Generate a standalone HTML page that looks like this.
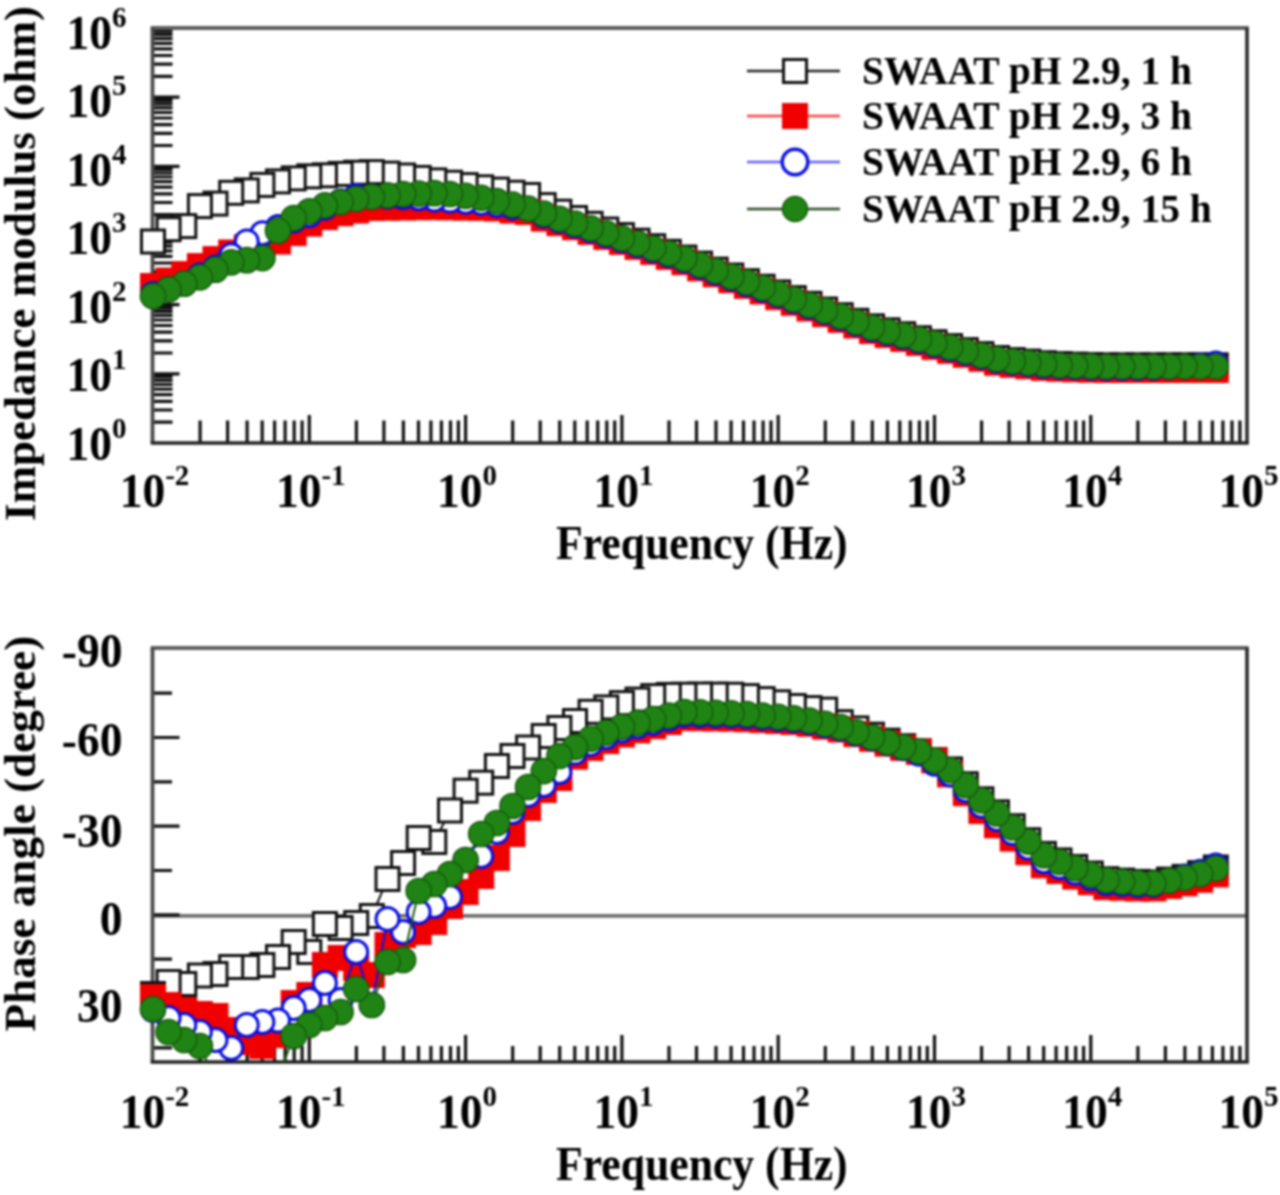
<!DOCTYPE html><html><head><meta charset="utf-8"><title>EIS plot</title><style>html,body{margin:0;padding:0;background:#fff;width:1280px;height:1195px;overflow:hidden}svg{display:block;filter:blur(1.3px)}</style></head><body><svg width="1280" height="1195" viewBox="0 0 1280 1195"><defs><clipPath id="c1"><rect x="0" y="0" width="1280" height="443.0"/></clipPath><clipPath id="c2"><rect x="0" y="648.0" width="1280" height="414.0"/></clipPath></defs><rect width="1280" height="1195" fill="#fff"/><path d="M152.5,422.2h20 M152.5,410.0h20 M152.5,401.4h20 M152.5,394.7h20 M152.5,389.2h20 M152.5,384.5h20 M152.5,380.5h20 M152.5,377.0h20 M152.5,373.8h27 M152.5,353.0h20 M152.5,340.8h20 M152.5,332.2h20 M152.5,325.5h20 M152.5,320.0h20 M152.5,315.4h20 M152.5,311.4h20 M152.5,307.8h20 M152.5,304.7h27 M152.5,283.8h20 M152.5,271.7h20 M152.5,263.0h20 M152.5,256.3h20 M152.5,250.8h20 M152.5,246.2h20 M152.5,242.2h20 M152.5,238.7h20 M152.5,235.5h27 M152.5,214.7h20 M152.5,202.5h20 M152.5,193.9h20 M152.5,187.2h20 M152.5,181.7h20 M152.5,177.0h20 M152.5,173.0h20 M152.5,169.5h20 M152.5,166.3h27 M152.5,145.5h20 M152.5,133.3h20 M152.5,124.7h20 M152.5,118.0h20 M152.5,112.5h20 M152.5,107.9h20 M152.5,103.9h20 M152.5,100.3h20 M152.5,97.2h27 M152.5,76.3h20 M152.5,64.2h20 M152.5,55.5h20 M152.5,48.8h20 M152.5,43.3h20 M152.5,38.7h20 M152.5,34.7h20 M152.5,31.2h20 M200.1,443.0v-22.5 M227.6,443.0v-22.5 M247.1,443.0v-22.5 M262.2,443.0v-22.5 M274.6,443.0v-22.5 M285.1,443.0v-22.5 M294.2,443.0v-22.5 M302.1,443.0v-22.5 M309.3,443.0v-28 M356.4,443.0v-22.5 M383.9,443.0v-22.5 M403.4,443.0v-22.5 M418.5,443.0v-22.5 M430.9,443.0v-22.5 M441.4,443.0v-22.5 M450.5,443.0v-22.5 M458.4,443.0v-22.5 M465.6,443.0v-28 M512.7,443.0v-22.5 M540.2,443.0v-22.5 M559.7,443.0v-22.5 M574.8,443.0v-22.5 M587.2,443.0v-22.5 M597.7,443.0v-22.5 M606.8,443.0v-22.5 M614.7,443.0v-22.5 M621.9,443.0v-28 M669.0,443.0v-22.5 M696.5,443.0v-22.5 M716.0,443.0v-22.5 M731.1,443.0v-22.5 M743.5,443.0v-22.5 M754.0,443.0v-22.5 M763.1,443.0v-22.5 M771.0,443.0v-22.5 M778.2,443.0v-28 M825.3,443.0v-22.5 M852.8,443.0v-22.5 M872.3,443.0v-22.5 M887.4,443.0v-22.5 M899.8,443.0v-22.5 M910.3,443.0v-22.5 M919.4,443.0v-22.5 M927.3,443.0v-22.5 M934.5,443.0v-28 M981.6,443.0v-22.5 M1009.1,443.0v-22.5 M1028.6,443.0v-22.5 M1043.7,443.0v-22.5 M1056.1,443.0v-22.5 M1066.6,443.0v-22.5 M1075.7,443.0v-22.5 M1083.6,443.0v-22.5 M1090.8,443.0v-28 M1137.9,443.0v-22.5 M1165.4,443.0v-22.5 M1184.9,443.0v-22.5 M1200.0,443.0v-22.5 M1212.4,443.0v-22.5 M1222.9,443.0v-22.5 M1232.0,443.0v-22.5 M1239.9,443.0v-22.5" stroke="#111" stroke-width="3.2" fill="none"/><line x1="150.7" y1="28.0" x2="1248.8" y2="28.0" stroke="#5e5e5e" stroke-width="3.8"/><line x1="152.5" y1="28.0" x2="152.5" y2="443.0" stroke="#4a4a4a" stroke-width="3.8"/><line x1="1247.0" y1="28.0" x2="1247.0" y2="443.0" stroke="#2a2a2a" stroke-width="3.6"/><line x1="150.7" y1="443.0" x2="1248.8" y2="443.0" stroke="#222" stroke-width="3.6"/><g clip-path="url(#c1)"><path d="M153.0,241.5 L168.6,229.2 L184.3,226.1 L199.9,206.1 L215.5,203.6 L231.2,192.8 L246.8,190.4 L262.4,184.9 L278.0,181.4 L293.7,178.4 L309.3,176.3 L324.9,175.3 L340.6,173.9 L356.2,172.7 L371.8,172.1 L387.5,173.6 L403.1,175.5 L418.7,177.9 L434.3,180.4 L450.0,182.7 L465.6,185.1 L481.2,187.3 L496.9,189.6 L512.5,192.7 L528.1,195.0 L543.8,205.1 L559.4,211.7 L575.0,218.0 L590.6,223.8 L606.3,229.5 L621.9,235.1 L637.5,240.7 L653.2,246.2 L668.8,251.8 L684.4,257.5 L700.1,263.6 L715.7,269.6 L731.3,275.5 L746.9,281.2 L762.6,286.7 L778.2,292.4 L793.8,298.1 L809.5,303.8 L825.1,309.5 L840.7,315.2 L856.4,320.8 L872.0,326.3 L887.6,330.3 L903.2,334.2 L918.9,338.2 L934.5,342.2 L950.1,346.1 L965.8,350.1 L981.4,354.1 L997.0,358.0 L1012.7,360.1 L1028.3,361.6 L1043.9,363.2 L1059.5,364.1 L1075.2,364.6 L1090.8,365.0 L1106.4,365.3 L1122.1,365.3 L1137.7,365.3 L1153.3,365.3 L1169.0,365.3 L1184.6,365.3 L1200.2,365.3 L1215.8,365.3" fill="none" stroke="#111" stroke-width="2"/><rect x="1204.3" y="353.8" width="23" height="23" fill="#fff" stroke="#111" stroke-width="3"/><rect x="1188.7" y="353.8" width="23" height="23" fill="#fff" stroke="#111" stroke-width="3"/><rect x="1173.1" y="353.8" width="23" height="23" fill="#fff" stroke="#111" stroke-width="3"/><rect x="1157.5" y="353.8" width="23" height="23" fill="#fff" stroke="#111" stroke-width="3"/><rect x="1141.8" y="353.8" width="23" height="23" fill="#fff" stroke="#111" stroke-width="3"/><rect x="1126.2" y="353.8" width="23" height="23" fill="#fff" stroke="#111" stroke-width="3"/><rect x="1110.6" y="353.8" width="23" height="23" fill="#fff" stroke="#111" stroke-width="3"/><rect x="1094.9" y="353.8" width="23" height="23" fill="#fff" stroke="#111" stroke-width="3"/><rect x="1079.3" y="353.5" width="23" height="23" fill="#fff" stroke="#111" stroke-width="3"/><rect x="1063.7" y="353.1" width="23" height="23" fill="#fff" stroke="#111" stroke-width="3"/><rect x="1048.0" y="352.6" width="23" height="23" fill="#fff" stroke="#111" stroke-width="3"/><rect x="1032.4" y="351.7" width="23" height="23" fill="#fff" stroke="#111" stroke-width="3"/><rect x="1016.8" y="350.1" width="23" height="23" fill="#fff" stroke="#111" stroke-width="3"/><rect x="1001.2" y="348.6" width="23" height="23" fill="#fff" stroke="#111" stroke-width="3"/><rect x="985.5" y="346.5" width="23" height="23" fill="#fff" stroke="#111" stroke-width="3"/><rect x="969.9" y="342.6" width="23" height="23" fill="#fff" stroke="#111" stroke-width="3"/><rect x="954.3" y="338.6" width="23" height="23" fill="#fff" stroke="#111" stroke-width="3"/><rect x="938.6" y="334.6" width="23" height="23" fill="#fff" stroke="#111" stroke-width="3"/><rect x="923.0" y="330.7" width="23" height="23" fill="#fff" stroke="#111" stroke-width="3"/><rect x="907.4" y="326.7" width="23" height="23" fill="#fff" stroke="#111" stroke-width="3"/><rect x="891.7" y="322.7" width="23" height="23" fill="#fff" stroke="#111" stroke-width="3"/><rect x="876.1" y="318.8" width="23" height="23" fill="#fff" stroke="#111" stroke-width="3"/><rect x="860.5" y="314.8" width="23" height="23" fill="#fff" stroke="#111" stroke-width="3"/><rect x="844.9" y="309.3" width="23" height="23" fill="#fff" stroke="#111" stroke-width="3"/><rect x="829.2" y="303.7" width="23" height="23" fill="#fff" stroke="#111" stroke-width="3"/><rect x="813.6" y="298.0" width="23" height="23" fill="#fff" stroke="#111" stroke-width="3"/><rect x="798.0" y="292.3" width="23" height="23" fill="#fff" stroke="#111" stroke-width="3"/><rect x="782.3" y="286.6" width="23" height="23" fill="#fff" stroke="#111" stroke-width="3"/><rect x="766.7" y="280.9" width="23" height="23" fill="#fff" stroke="#111" stroke-width="3"/><rect x="751.1" y="275.2" width="23" height="23" fill="#fff" stroke="#111" stroke-width="3"/><rect x="735.4" y="269.7" width="23" height="23" fill="#fff" stroke="#111" stroke-width="3"/><rect x="719.8" y="264.0" width="23" height="23" fill="#fff" stroke="#111" stroke-width="3"/><rect x="704.2" y="258.1" width="23" height="23" fill="#fff" stroke="#111" stroke-width="3"/><rect x="688.6" y="252.1" width="23" height="23" fill="#fff" stroke="#111" stroke-width="3"/><rect x="672.9" y="246.0" width="23" height="23" fill="#fff" stroke="#111" stroke-width="3"/><rect x="657.3" y="240.3" width="23" height="23" fill="#fff" stroke="#111" stroke-width="3"/><rect x="641.7" y="234.7" width="23" height="23" fill="#fff" stroke="#111" stroke-width="3"/><rect x="626.0" y="229.2" width="23" height="23" fill="#fff" stroke="#111" stroke-width="3"/><rect x="610.4" y="223.6" width="23" height="23" fill="#fff" stroke="#111" stroke-width="3"/><rect x="594.8" y="218.0" width="23" height="23" fill="#fff" stroke="#111" stroke-width="3"/><rect x="579.1" y="212.3" width="23" height="23" fill="#fff" stroke="#111" stroke-width="3"/><rect x="563.5" y="206.5" width="23" height="23" fill="#fff" stroke="#111" stroke-width="3"/><rect x="547.9" y="200.2" width="23" height="23" fill="#fff" stroke="#111" stroke-width="3"/><rect x="532.2" y="193.6" width="23" height="23" fill="#fff" stroke="#111" stroke-width="3"/><rect x="516.6" y="183.5" width="23" height="23" fill="#fff" stroke="#111" stroke-width="3"/><rect x="501.0" y="181.2" width="23" height="23" fill="#fff" stroke="#111" stroke-width="3"/><rect x="485.4" y="178.1" width="23" height="23" fill="#fff" stroke="#111" stroke-width="3"/><rect x="469.7" y="175.8" width="23" height="23" fill="#fff" stroke="#111" stroke-width="3"/><rect x="454.1" y="173.6" width="23" height="23" fill="#fff" stroke="#111" stroke-width="3"/><rect x="438.5" y="171.2" width="23" height="23" fill="#fff" stroke="#111" stroke-width="3"/><rect x="422.8" y="168.9" width="23" height="23" fill="#fff" stroke="#111" stroke-width="3"/><rect x="407.2" y="166.4" width="23" height="23" fill="#fff" stroke="#111" stroke-width="3"/><rect x="391.6" y="164.0" width="23" height="23" fill="#fff" stroke="#111" stroke-width="3"/><rect x="376.0" y="162.1" width="23" height="23" fill="#fff" stroke="#111" stroke-width="3"/><rect x="360.3" y="160.6" width="23" height="23" fill="#fff" stroke="#111" stroke-width="3"/><rect x="344.7" y="161.2" width="23" height="23" fill="#fff" stroke="#111" stroke-width="3"/><rect x="329.1" y="162.4" width="23" height="23" fill="#fff" stroke="#111" stroke-width="3"/><rect x="313.4" y="163.8" width="23" height="23" fill="#fff" stroke="#111" stroke-width="3"/><rect x="297.8" y="164.8" width="23" height="23" fill="#fff" stroke="#111" stroke-width="3"/><rect x="282.2" y="166.9" width="23" height="23" fill="#fff" stroke="#111" stroke-width="3"/><rect x="266.5" y="169.9" width="23" height="23" fill="#fff" stroke="#111" stroke-width="3"/><rect x="250.9" y="173.4" width="23" height="23" fill="#fff" stroke="#111" stroke-width="3"/><rect x="235.3" y="178.9" width="23" height="23" fill="#fff" stroke="#111" stroke-width="3"/><rect x="219.7" y="181.3" width="23" height="23" fill="#fff" stroke="#111" stroke-width="3"/><rect x="204.0" y="192.1" width="23" height="23" fill="#fff" stroke="#111" stroke-width="3"/><rect x="188.4" y="194.6" width="23" height="23" fill="#fff" stroke="#111" stroke-width="3"/><rect x="172.8" y="214.6" width="23" height="23" fill="#fff" stroke="#111" stroke-width="3"/><rect x="157.1" y="217.7" width="23" height="23" fill="#fff" stroke="#111" stroke-width="3"/><rect x="141.5" y="230.0" width="23" height="23" fill="#fff" stroke="#111" stroke-width="3"/></g><g clip-path="url(#c1)"><path d="M153.0,286.0 L168.6,280.5 L184.3,274.1 L199.9,266.1 L215.5,259.1 L231.2,252.5 L246.8,247.3 L262.4,244.5 L278.0,241.5 L293.7,233.0 L309.3,223.6 L324.9,217.1 L340.6,213.2 L356.2,210.5 L371.8,208.0 L387.5,207.7 L403.1,207.5 L418.7,207.2 L434.3,207.1 L450.0,207.3 L465.6,207.6 L481.2,207.8 L496.9,208.5 L512.5,210.6 L528.1,212.0 L543.8,218.6 L559.4,223.1 L575.0,227.2 L590.6,231.9 L606.3,236.9 L621.9,241.9 L637.5,246.9 L653.2,251.9 L668.8,256.9 L684.4,262.2 L700.1,268.3 L715.7,274.3 L731.3,280.2 L746.9,285.9 L762.6,291.4 L778.2,297.1 L793.8,302.8 L809.5,308.5 L825.1,314.2 L840.7,319.9 L856.4,325.5 L872.0,331.0 L887.6,335.0 L903.2,338.9 L918.9,342.9 L934.5,346.9 L950.1,350.8 L965.8,354.8 L981.4,358.8 L997.0,362.7 L1012.7,364.8 L1028.3,366.3 L1043.9,367.9 L1059.5,368.8 L1075.2,369.3 L1090.8,369.7 L1106.4,370.0 L1122.1,370.0 L1137.7,370.0 L1153.3,370.0 L1169.0,370.0 L1184.6,370.0 L1200.2,370.0 L1215.8,370.0" fill="none" stroke="#f00000" stroke-width="2"/><rect x="1202.8" y="357.0" width="26" height="26" fill="#f00000"/><rect x="1187.2" y="357.0" width="26" height="26" fill="#f00000"/><rect x="1171.6" y="357.0" width="26" height="26" fill="#f00000"/><rect x="1156.0" y="357.0" width="26" height="26" fill="#f00000"/><rect x="1140.3" y="357.0" width="26" height="26" fill="#f00000"/><rect x="1124.7" y="357.0" width="26" height="26" fill="#f00000"/><rect x="1109.1" y="357.0" width="26" height="26" fill="#f00000"/><rect x="1093.4" y="357.0" width="26" height="26" fill="#f00000"/><rect x="1077.8" y="356.7" width="26" height="26" fill="#f00000"/><rect x="1062.2" y="356.3" width="26" height="26" fill="#f00000"/><rect x="1046.5" y="355.8" width="26" height="26" fill="#f00000"/><rect x="1030.9" y="354.9" width="26" height="26" fill="#f00000"/><rect x="1015.3" y="353.3" width="26" height="26" fill="#f00000"/><rect x="999.7" y="351.8" width="26" height="26" fill="#f00000"/><rect x="984.0" y="349.7" width="26" height="26" fill="#f00000"/><rect x="968.4" y="345.8" width="26" height="26" fill="#f00000"/><rect x="952.8" y="341.8" width="26" height="26" fill="#f00000"/><rect x="937.1" y="337.8" width="26" height="26" fill="#f00000"/><rect x="921.5" y="333.9" width="26" height="26" fill="#f00000"/><rect x="905.9" y="329.9" width="26" height="26" fill="#f00000"/><rect x="890.2" y="325.9" width="26" height="26" fill="#f00000"/><rect x="874.6" y="322.0" width="26" height="26" fill="#f00000"/><rect x="859.0" y="318.0" width="26" height="26" fill="#f00000"/><rect x="843.4" y="312.5" width="26" height="26" fill="#f00000"/><rect x="827.7" y="306.9" width="26" height="26" fill="#f00000"/><rect x="812.1" y="301.2" width="26" height="26" fill="#f00000"/><rect x="796.5" y="295.5" width="26" height="26" fill="#f00000"/><rect x="780.8" y="289.8" width="26" height="26" fill="#f00000"/><rect x="765.2" y="284.1" width="26" height="26" fill="#f00000"/><rect x="749.6" y="278.4" width="26" height="26" fill="#f00000"/><rect x="733.9" y="272.9" width="26" height="26" fill="#f00000"/><rect x="718.3" y="267.2" width="26" height="26" fill="#f00000"/><rect x="702.7" y="261.3" width="26" height="26" fill="#f00000"/><rect x="687.1" y="255.3" width="26" height="26" fill="#f00000"/><rect x="671.4" y="249.2" width="26" height="26" fill="#f00000"/><rect x="655.8" y="243.9" width="26" height="26" fill="#f00000"/><rect x="640.2" y="238.9" width="26" height="26" fill="#f00000"/><rect x="624.5" y="233.9" width="26" height="26" fill="#f00000"/><rect x="608.9" y="228.9" width="26" height="26" fill="#f00000"/><rect x="593.3" y="223.9" width="26" height="26" fill="#f00000"/><rect x="577.6" y="218.9" width="26" height="26" fill="#f00000"/><rect x="562.0" y="214.2" width="26" height="26" fill="#f00000"/><rect x="546.4" y="210.1" width="26" height="26" fill="#f00000"/><rect x="530.8" y="205.6" width="26" height="26" fill="#f00000"/><rect x="515.1" y="199.0" width="26" height="26" fill="#f00000"/><rect x="499.5" y="197.6" width="26" height="26" fill="#f00000"/><rect x="483.9" y="195.5" width="26" height="26" fill="#f00000"/><rect x="468.2" y="194.8" width="26" height="26" fill="#f00000"/><rect x="452.6" y="194.6" width="26" height="26" fill="#f00000"/><rect x="437.0" y="194.3" width="26" height="26" fill="#f00000"/><rect x="421.3" y="194.1" width="26" height="26" fill="#f00000"/><rect x="405.7" y="194.2" width="26" height="26" fill="#f00000"/><rect x="390.1" y="194.5" width="26" height="26" fill="#f00000"/><rect x="374.5" y="194.7" width="26" height="26" fill="#f00000"/><rect x="358.8" y="195.0" width="26" height="26" fill="#f00000"/><rect x="343.2" y="197.5" width="26" height="26" fill="#f00000"/><rect x="327.6" y="200.2" width="26" height="26" fill="#f00000"/><rect x="311.9" y="204.1" width="26" height="26" fill="#f00000"/><rect x="296.3" y="210.6" width="26" height="26" fill="#f00000"/><rect x="280.7" y="220.0" width="26" height="26" fill="#f00000"/><rect x="265.0" y="228.5" width="26" height="26" fill="#f00000"/><rect x="249.4" y="231.5" width="26" height="26" fill="#f00000"/><rect x="233.8" y="234.3" width="26" height="26" fill="#f00000"/><rect x="218.2" y="239.5" width="26" height="26" fill="#f00000"/><rect x="202.5" y="246.1" width="26" height="26" fill="#f00000"/><rect x="186.9" y="253.1" width="26" height="26" fill="#f00000"/><rect x="171.3" y="261.1" width="26" height="26" fill="#f00000"/><rect x="155.6" y="267.5" width="26" height="26" fill="#f00000"/><rect x="140.0" y="273.0" width="26" height="26" fill="#f00000"/></g><g clip-path="url(#c1)"><path d="M153.0,294.0 L168.6,289.2 L184.3,283.9 L199.9,275.3 L215.5,267.2 L231.2,255.2 L246.8,241.4 L262.4,233.3 L278.0,226.9 L293.7,220.7 L309.3,215.3 L324.9,207.7 L340.6,201.2 L356.2,196.0 L371.8,196.4 L387.5,196.7 L403.1,197.2 L418.7,198.3 L434.3,199.5 L450.0,200.6 L465.6,201.7 L481.2,202.9 L496.9,205.1 L512.5,207.4 L528.1,209.0 L543.8,215.7 L559.4,220.8 L575.0,225.5 L590.6,230.4 L606.3,235.4 L621.9,240.3 L637.5,245.3 L653.2,250.3 L668.8,255.3 L684.4,260.6 L700.1,266.7 L715.7,272.7 L731.3,278.6 L746.9,284.3 L762.6,289.8 L778.2,295.4 L793.8,301.1 L809.5,306.8 L825.1,312.4 L840.7,318.1 L856.4,323.8 L872.0,329.2 L887.6,333.2 L903.2,337.1 L918.9,341.1 L934.5,345.0 L950.1,349.0 L965.8,353.0 L981.4,356.9 L997.0,360.9 L1012.7,362.9 L1028.3,364.4 L1043.9,366.0 L1059.5,366.9 L1075.2,367.3 L1090.8,367.8 L1106.4,368.0 L1122.1,368.0 L1137.7,368.0 L1153.3,367.9 L1169.0,367.3 L1184.6,366.7 L1200.2,365.3 L1215.8,363.5" fill="none" stroke="#0a10e0" stroke-width="2"/><circle cx="1215.8" cy="363.5" r="11.5" fill="#fff" stroke="#0a10e0" stroke-width="3"/><circle cx="1200.2" cy="365.3" r="11.5" fill="#fff" stroke="#0a10e0" stroke-width="3"/><circle cx="1184.6" cy="366.7" r="11.5" fill="#fff" stroke="#0a10e0" stroke-width="3"/><circle cx="1169.0" cy="367.3" r="11.5" fill="#fff" stroke="#0a10e0" stroke-width="3"/><circle cx="1153.3" cy="367.9" r="11.5" fill="#fff" stroke="#0a10e0" stroke-width="3"/><circle cx="1137.7" cy="368.0" r="11.5" fill="#fff" stroke="#0a10e0" stroke-width="3"/><circle cx="1122.1" cy="368.0" r="11.5" fill="#fff" stroke="#0a10e0" stroke-width="3"/><circle cx="1106.4" cy="368.0" r="11.5" fill="#fff" stroke="#0a10e0" stroke-width="3"/><circle cx="1090.8" cy="367.8" r="11.5" fill="#fff" stroke="#0a10e0" stroke-width="3"/><circle cx="1075.2" cy="367.3" r="11.5" fill="#fff" stroke="#0a10e0" stroke-width="3"/><circle cx="1059.5" cy="366.9" r="11.5" fill="#fff" stroke="#0a10e0" stroke-width="3"/><circle cx="1043.9" cy="366.0" r="11.5" fill="#fff" stroke="#0a10e0" stroke-width="3"/><circle cx="1028.3" cy="364.4" r="11.5" fill="#fff" stroke="#0a10e0" stroke-width="3"/><circle cx="1012.7" cy="362.9" r="11.5" fill="#fff" stroke="#0a10e0" stroke-width="3"/><circle cx="997.0" cy="360.9" r="11.5" fill="#fff" stroke="#0a10e0" stroke-width="3"/><circle cx="981.4" cy="356.9" r="11.5" fill="#fff" stroke="#0a10e0" stroke-width="3"/><circle cx="965.8" cy="353.0" r="11.5" fill="#fff" stroke="#0a10e0" stroke-width="3"/><circle cx="950.1" cy="349.0" r="11.5" fill="#fff" stroke="#0a10e0" stroke-width="3"/><circle cx="934.5" cy="345.0" r="11.5" fill="#fff" stroke="#0a10e0" stroke-width="3"/><circle cx="918.9" cy="341.1" r="11.5" fill="#fff" stroke="#0a10e0" stroke-width="3"/><circle cx="903.2" cy="337.1" r="11.5" fill="#fff" stroke="#0a10e0" stroke-width="3"/><circle cx="887.6" cy="333.2" r="11.5" fill="#fff" stroke="#0a10e0" stroke-width="3"/><circle cx="872.0" cy="329.2" r="11.5" fill="#fff" stroke="#0a10e0" stroke-width="3"/><circle cx="856.4" cy="323.8" r="11.5" fill="#fff" stroke="#0a10e0" stroke-width="3"/><circle cx="840.7" cy="318.1" r="11.5" fill="#fff" stroke="#0a10e0" stroke-width="3"/><circle cx="825.1" cy="312.4" r="11.5" fill="#fff" stroke="#0a10e0" stroke-width="3"/><circle cx="809.5" cy="306.8" r="11.5" fill="#fff" stroke="#0a10e0" stroke-width="3"/><circle cx="793.8" cy="301.1" r="11.5" fill="#fff" stroke="#0a10e0" stroke-width="3"/><circle cx="778.2" cy="295.4" r="11.5" fill="#fff" stroke="#0a10e0" stroke-width="3"/><circle cx="762.6" cy="289.8" r="11.5" fill="#fff" stroke="#0a10e0" stroke-width="3"/><circle cx="746.9" cy="284.3" r="11.5" fill="#fff" stroke="#0a10e0" stroke-width="3"/><circle cx="731.3" cy="278.6" r="11.5" fill="#fff" stroke="#0a10e0" stroke-width="3"/><circle cx="715.7" cy="272.7" r="11.5" fill="#fff" stroke="#0a10e0" stroke-width="3"/><circle cx="700.1" cy="266.7" r="11.5" fill="#fff" stroke="#0a10e0" stroke-width="3"/><circle cx="684.4" cy="260.6" r="11.5" fill="#fff" stroke="#0a10e0" stroke-width="3"/><circle cx="668.8" cy="255.3" r="11.5" fill="#fff" stroke="#0a10e0" stroke-width="3"/><circle cx="653.2" cy="250.3" r="11.5" fill="#fff" stroke="#0a10e0" stroke-width="3"/><circle cx="637.5" cy="245.3" r="11.5" fill="#fff" stroke="#0a10e0" stroke-width="3"/><circle cx="621.9" cy="240.3" r="11.5" fill="#fff" stroke="#0a10e0" stroke-width="3"/><circle cx="606.3" cy="235.4" r="11.5" fill="#fff" stroke="#0a10e0" stroke-width="3"/><circle cx="590.6" cy="230.4" r="11.5" fill="#fff" stroke="#0a10e0" stroke-width="3"/><circle cx="575.0" cy="225.5" r="11.5" fill="#fff" stroke="#0a10e0" stroke-width="3"/><circle cx="559.4" cy="220.8" r="11.5" fill="#fff" stroke="#0a10e0" stroke-width="3"/><circle cx="543.8" cy="215.7" r="11.5" fill="#fff" stroke="#0a10e0" stroke-width="3"/><circle cx="528.1" cy="209.0" r="11.5" fill="#fff" stroke="#0a10e0" stroke-width="3"/><circle cx="512.5" cy="207.4" r="11.5" fill="#fff" stroke="#0a10e0" stroke-width="3"/><circle cx="496.9" cy="205.1" r="11.5" fill="#fff" stroke="#0a10e0" stroke-width="3"/><circle cx="481.2" cy="202.9" r="11.5" fill="#fff" stroke="#0a10e0" stroke-width="3"/><circle cx="465.6" cy="201.7" r="11.5" fill="#fff" stroke="#0a10e0" stroke-width="3"/><circle cx="450.0" cy="200.6" r="11.5" fill="#fff" stroke="#0a10e0" stroke-width="3"/><circle cx="434.3" cy="199.5" r="11.5" fill="#fff" stroke="#0a10e0" stroke-width="3"/><circle cx="418.7" cy="198.3" r="11.5" fill="#fff" stroke="#0a10e0" stroke-width="3"/><circle cx="403.1" cy="197.2" r="11.5" fill="#fff" stroke="#0a10e0" stroke-width="3"/><circle cx="387.5" cy="196.7" r="11.5" fill="#fff" stroke="#0a10e0" stroke-width="3"/><circle cx="371.8" cy="196.4" r="11.5" fill="#fff" stroke="#0a10e0" stroke-width="3"/><circle cx="356.2" cy="196.0" r="11.5" fill="#fff" stroke="#0a10e0" stroke-width="3"/><circle cx="340.6" cy="201.2" r="11.5" fill="#fff" stroke="#0a10e0" stroke-width="3"/><circle cx="324.9" cy="207.7" r="11.5" fill="#fff" stroke="#0a10e0" stroke-width="3"/><circle cx="309.3" cy="215.3" r="11.5" fill="#fff" stroke="#0a10e0" stroke-width="3"/><circle cx="293.7" cy="220.7" r="11.5" fill="#fff" stroke="#0a10e0" stroke-width="3"/><circle cx="278.0" cy="226.9" r="11.5" fill="#fff" stroke="#0a10e0" stroke-width="3"/><circle cx="262.4" cy="233.3" r="11.5" fill="#fff" stroke="#0a10e0" stroke-width="3"/><circle cx="246.8" cy="241.4" r="11.5" fill="#fff" stroke="#0a10e0" stroke-width="3"/><circle cx="231.2" cy="255.2" r="11.5" fill="#fff" stroke="#0a10e0" stroke-width="3"/><circle cx="215.5" cy="267.2" r="11.5" fill="#fff" stroke="#0a10e0" stroke-width="3"/><circle cx="199.9" cy="275.3" r="11.5" fill="#fff" stroke="#0a10e0" stroke-width="3"/><circle cx="184.3" cy="283.9" r="11.5" fill="#fff" stroke="#0a10e0" stroke-width="3"/><circle cx="168.6" cy="289.2" r="11.5" fill="#fff" stroke="#0a10e0" stroke-width="3"/><circle cx="153.0" cy="294.0" r="11.5" fill="#fff" stroke="#0a10e0" stroke-width="3"/></g><g clip-path="url(#c1)"><path d="M153.0,296.0 L168.6,289.6 L184.3,283.7 L199.9,277.4 L215.5,269.7 L231.2,262.4 L246.8,260.2 L262.4,258.1 L278.0,230.7 L293.7,218.2 L309.3,211.3 L324.9,205.4 L340.6,202.1 L356.2,199.0 L371.8,196.9 L387.5,195.4 L403.1,194.0 L418.7,193.6 L434.3,193.2 L450.0,194.0 L465.6,195.9 L481.2,197.8 L496.9,201.1 L512.5,204.6 L528.1,208.7 L543.8,213.7 L559.4,218.8 L575.0,223.5 L590.6,228.4 L606.3,233.4 L621.9,238.4 L637.5,243.4 L653.2,248.4 L668.8,253.4 L684.4,258.7 L700.1,264.8 L715.7,270.8 L731.3,276.7 L746.9,282.4 L762.6,287.9 L778.2,293.6 L793.8,299.3 L809.5,305.0 L825.1,310.7 L840.7,316.4 L856.4,322.0 L872.0,327.5 L887.6,331.5 L903.2,335.4 L918.9,339.4 L934.5,343.4 L950.1,347.3 L965.8,351.3 L981.4,355.3 L997.0,359.2 L1012.7,361.3 L1028.3,362.8 L1043.9,364.4 L1059.5,365.3 L1075.2,365.8 L1090.8,366.2 L1106.4,366.5 L1122.1,366.5 L1137.7,366.5 L1153.3,366.5 L1169.0,366.5 L1184.6,366.5 L1200.2,366.5 L1215.8,366.5" fill="none" stroke="#175a0c" stroke-width="2"/><circle cx="1215.8" cy="366.5" r="12.6" fill="#1f8414" stroke="#175a0c" stroke-width="1.5"/><circle cx="1200.2" cy="366.5" r="12.6" fill="#1f8414" stroke="#175a0c" stroke-width="1.5"/><circle cx="1184.6" cy="366.5" r="12.6" fill="#1f8414" stroke="#175a0c" stroke-width="1.5"/><circle cx="1169.0" cy="366.5" r="12.6" fill="#1f8414" stroke="#175a0c" stroke-width="1.5"/><circle cx="1153.3" cy="366.5" r="12.6" fill="#1f8414" stroke="#175a0c" stroke-width="1.5"/><circle cx="1137.7" cy="366.5" r="12.6" fill="#1f8414" stroke="#175a0c" stroke-width="1.5"/><circle cx="1122.1" cy="366.5" r="12.6" fill="#1f8414" stroke="#175a0c" stroke-width="1.5"/><circle cx="1106.4" cy="366.5" r="12.6" fill="#1f8414" stroke="#175a0c" stroke-width="1.5"/><circle cx="1090.8" cy="366.2" r="12.6" fill="#1f8414" stroke="#175a0c" stroke-width="1.5"/><circle cx="1075.2" cy="365.8" r="12.6" fill="#1f8414" stroke="#175a0c" stroke-width="1.5"/><circle cx="1059.5" cy="365.3" r="12.6" fill="#1f8414" stroke="#175a0c" stroke-width="1.5"/><circle cx="1043.9" cy="364.4" r="12.6" fill="#1f8414" stroke="#175a0c" stroke-width="1.5"/><circle cx="1028.3" cy="362.8" r="12.6" fill="#1f8414" stroke="#175a0c" stroke-width="1.5"/><circle cx="1012.7" cy="361.3" r="12.6" fill="#1f8414" stroke="#175a0c" stroke-width="1.5"/><circle cx="997.0" cy="359.2" r="12.6" fill="#1f8414" stroke="#175a0c" stroke-width="1.5"/><circle cx="981.4" cy="355.3" r="12.6" fill="#1f8414" stroke="#175a0c" stroke-width="1.5"/><circle cx="965.8" cy="351.3" r="12.6" fill="#1f8414" stroke="#175a0c" stroke-width="1.5"/><circle cx="950.1" cy="347.3" r="12.6" fill="#1f8414" stroke="#175a0c" stroke-width="1.5"/><circle cx="934.5" cy="343.4" r="12.6" fill="#1f8414" stroke="#175a0c" stroke-width="1.5"/><circle cx="918.9" cy="339.4" r="12.6" fill="#1f8414" stroke="#175a0c" stroke-width="1.5"/><circle cx="903.2" cy="335.4" r="12.6" fill="#1f8414" stroke="#175a0c" stroke-width="1.5"/><circle cx="887.6" cy="331.5" r="12.6" fill="#1f8414" stroke="#175a0c" stroke-width="1.5"/><circle cx="872.0" cy="327.5" r="12.6" fill="#1f8414" stroke="#175a0c" stroke-width="1.5"/><circle cx="856.4" cy="322.0" r="12.6" fill="#1f8414" stroke="#175a0c" stroke-width="1.5"/><circle cx="840.7" cy="316.4" r="12.6" fill="#1f8414" stroke="#175a0c" stroke-width="1.5"/><circle cx="825.1" cy="310.7" r="12.6" fill="#1f8414" stroke="#175a0c" stroke-width="1.5"/><circle cx="809.5" cy="305.0" r="12.6" fill="#1f8414" stroke="#175a0c" stroke-width="1.5"/><circle cx="793.8" cy="299.3" r="12.6" fill="#1f8414" stroke="#175a0c" stroke-width="1.5"/><circle cx="778.2" cy="293.6" r="12.6" fill="#1f8414" stroke="#175a0c" stroke-width="1.5"/><circle cx="762.6" cy="287.9" r="12.6" fill="#1f8414" stroke="#175a0c" stroke-width="1.5"/><circle cx="746.9" cy="282.4" r="12.6" fill="#1f8414" stroke="#175a0c" stroke-width="1.5"/><circle cx="731.3" cy="276.7" r="12.6" fill="#1f8414" stroke="#175a0c" stroke-width="1.5"/><circle cx="715.7" cy="270.8" r="12.6" fill="#1f8414" stroke="#175a0c" stroke-width="1.5"/><circle cx="700.1" cy="264.8" r="12.6" fill="#1f8414" stroke="#175a0c" stroke-width="1.5"/><circle cx="684.4" cy="258.7" r="12.6" fill="#1f8414" stroke="#175a0c" stroke-width="1.5"/><circle cx="668.8" cy="253.4" r="12.6" fill="#1f8414" stroke="#175a0c" stroke-width="1.5"/><circle cx="653.2" cy="248.4" r="12.6" fill="#1f8414" stroke="#175a0c" stroke-width="1.5"/><circle cx="637.5" cy="243.4" r="12.6" fill="#1f8414" stroke="#175a0c" stroke-width="1.5"/><circle cx="621.9" cy="238.4" r="12.6" fill="#1f8414" stroke="#175a0c" stroke-width="1.5"/><circle cx="606.3" cy="233.4" r="12.6" fill="#1f8414" stroke="#175a0c" stroke-width="1.5"/><circle cx="590.6" cy="228.4" r="12.6" fill="#1f8414" stroke="#175a0c" stroke-width="1.5"/><circle cx="575.0" cy="223.5" r="12.6" fill="#1f8414" stroke="#175a0c" stroke-width="1.5"/><circle cx="559.4" cy="218.8" r="12.6" fill="#1f8414" stroke="#175a0c" stroke-width="1.5"/><circle cx="543.8" cy="213.7" r="12.6" fill="#1f8414" stroke="#175a0c" stroke-width="1.5"/><circle cx="528.1" cy="208.7" r="12.6" fill="#1f8414" stroke="#175a0c" stroke-width="1.5"/><circle cx="512.5" cy="204.6" r="12.6" fill="#1f8414" stroke="#175a0c" stroke-width="1.5"/><circle cx="496.9" cy="201.1" r="12.6" fill="#1f8414" stroke="#175a0c" stroke-width="1.5"/><circle cx="481.2" cy="197.8" r="12.6" fill="#1f8414" stroke="#175a0c" stroke-width="1.5"/><circle cx="465.6" cy="195.9" r="12.6" fill="#1f8414" stroke="#175a0c" stroke-width="1.5"/><circle cx="450.0" cy="194.0" r="12.6" fill="#1f8414" stroke="#175a0c" stroke-width="1.5"/><circle cx="434.3" cy="193.2" r="12.6" fill="#1f8414" stroke="#175a0c" stroke-width="1.5"/><circle cx="418.7" cy="193.6" r="12.6" fill="#1f8414" stroke="#175a0c" stroke-width="1.5"/><circle cx="403.1" cy="194.0" r="12.6" fill="#1f8414" stroke="#175a0c" stroke-width="1.5"/><circle cx="387.5" cy="195.4" r="12.6" fill="#1f8414" stroke="#175a0c" stroke-width="1.5"/><circle cx="371.8" cy="196.9" r="12.6" fill="#1f8414" stroke="#175a0c" stroke-width="1.5"/><circle cx="356.2" cy="199.0" r="12.6" fill="#1f8414" stroke="#175a0c" stroke-width="1.5"/><circle cx="340.6" cy="202.1" r="12.6" fill="#1f8414" stroke="#175a0c" stroke-width="1.5"/><circle cx="324.9" cy="205.4" r="12.6" fill="#1f8414" stroke="#175a0c" stroke-width="1.5"/><circle cx="309.3" cy="211.3" r="12.6" fill="#1f8414" stroke="#175a0c" stroke-width="1.5"/><circle cx="293.7" cy="218.2" r="12.6" fill="#1f8414" stroke="#175a0c" stroke-width="1.5"/><circle cx="278.0" cy="230.7" r="12.6" fill="#1f8414" stroke="#175a0c" stroke-width="1.5"/><circle cx="262.4" cy="258.1" r="12.6" fill="#1f8414" stroke="#175a0c" stroke-width="1.5"/><circle cx="246.8" cy="260.2" r="12.6" fill="#1f8414" stroke="#175a0c" stroke-width="1.5"/><circle cx="231.2" cy="262.4" r="12.6" fill="#1f8414" stroke="#175a0c" stroke-width="1.5"/><circle cx="215.5" cy="269.7" r="12.6" fill="#1f8414" stroke="#175a0c" stroke-width="1.5"/><circle cx="199.9" cy="277.4" r="12.6" fill="#1f8414" stroke="#175a0c" stroke-width="1.5"/><circle cx="184.3" cy="283.7" r="12.6" fill="#1f8414" stroke="#175a0c" stroke-width="1.5"/><circle cx="168.6" cy="289.6" r="12.6" fill="#1f8414" stroke="#175a0c" stroke-width="1.5"/><circle cx="153.0" cy="296.0" r="12.6" fill="#1f8414" stroke="#175a0c" stroke-width="1.5"/></g><line x1="152.5" y1="915.8" x2="1247.0" y2="915.8" stroke="#707070" stroke-width="3.8"/><path d="M152.5,693.2h19.5 M152.5,737.5h27 M152.5,781.8h19.5 M152.5,826.1h27 M152.5,870.5h19.5 M152.5,914.8h27 M152.5,959.1h19.5 M152.5,1003.4h27 M152.5,1047.8h19.5 M200.1,1062.0v-16 M227.6,1062.0v-16 M247.1,1062.0v-16 M262.2,1062.0v-16 M274.6,1062.0v-16 M285.1,1062.0v-16 M294.2,1062.0v-16 M302.1,1062.0v-16 M309.3,1062.0v-27 M356.4,1062.0v-16 M383.9,1062.0v-16 M403.4,1062.0v-16 M418.5,1062.0v-16 M430.9,1062.0v-16 M441.4,1062.0v-16 M450.5,1062.0v-16 M458.4,1062.0v-16 M465.6,1062.0v-27 M512.7,1062.0v-16 M540.2,1062.0v-16 M559.7,1062.0v-16 M574.8,1062.0v-16 M587.2,1062.0v-16 M597.7,1062.0v-16 M606.8,1062.0v-16 M614.7,1062.0v-16 M621.9,1062.0v-27 M669.0,1062.0v-16 M696.5,1062.0v-16 M716.0,1062.0v-16 M731.1,1062.0v-16 M743.5,1062.0v-16 M754.0,1062.0v-16 M763.1,1062.0v-16 M771.0,1062.0v-16 M778.2,1062.0v-27 M825.3,1062.0v-16 M852.8,1062.0v-16 M872.3,1062.0v-16 M887.4,1062.0v-16 M899.8,1062.0v-16 M910.3,1062.0v-16 M919.4,1062.0v-16 M927.3,1062.0v-16 M934.5,1062.0v-27 M981.6,1062.0v-16 M1009.1,1062.0v-16 M1028.6,1062.0v-16 M1043.7,1062.0v-16 M1056.1,1062.0v-16 M1066.6,1062.0v-16 M1075.7,1062.0v-16 M1083.6,1062.0v-16 M1090.8,1062.0v-27 M1137.9,1062.0v-16 M1165.4,1062.0v-16 M1184.9,1062.0v-16 M1200.0,1062.0v-16 M1212.4,1062.0v-16 M1222.9,1062.0v-16 M1232.0,1062.0v-16 M1239.9,1062.0v-16" stroke="#111" stroke-width="3.2" fill="none"/><line x1="150.7" y1="648.0" x2="1248.8" y2="648.0" stroke="#5e5e5e" stroke-width="3.8"/><line x1="152.5" y1="648.0" x2="152.5" y2="1062.0" stroke="#4a4a4a" stroke-width="3.8"/><line x1="1247.0" y1="648.0" x2="1247.0" y2="1062.0" stroke="#2a2a2a" stroke-width="3.6"/><line x1="150.7" y1="1062.0" x2="1248.8" y2="1062.0" stroke="#222" stroke-width="3.6"/><g clip-path="url(#c2)"><path d="M153.0,994.0 L168.6,982.0 L184.3,984.0 L199.9,975.5 L215.5,974.0 L231.2,967.0 L246.8,967.0 L262.4,965.0 L278.0,957.0 L293.7,942.0 L309.3,952.0 L324.9,924.0 L340.6,928.0 L356.2,923.0 L371.8,916.0 L387.5,879.0 L403.1,863.0 L418.7,838.0 L434.3,842.0 L450.0,810.5 L465.6,790.7 L481.2,782.7 L496.9,766.0 L512.5,756.0 L528.1,747.5 L543.8,736.0 L559.4,728.0 L575.0,721.0 L590.6,711.8 L606.3,707.4 L621.9,703.1 L637.5,699.6 L653.2,696.1 L668.8,694.9 L684.4,694.7 L700.1,694.5 L715.7,694.6 L731.3,694.7 L746.9,696.1 L762.6,699.1 L778.2,702.3 L793.8,706.0 L809.5,708.1 L825.1,709.6 L840.7,722.2 L856.4,728.4 L872.0,734.7 L887.6,740.7 L903.2,746.2 L918.9,751.3 L934.5,760.0 L950.1,769.4 L965.8,784.2 L981.4,799.3 L997.0,812.3 L1012.7,826.2 L1028.3,840.2 L1043.9,853.9 L1059.5,860.4 L1075.2,866.9 L1090.8,873.5 L1106.4,879.2 L1122.1,880.6 L1137.7,881.9 L1153.3,882.4 L1169.0,879.6 L1184.6,876.9 L1200.2,873.1 L1215.8,867.5" fill="none" stroke="#111" stroke-width="2"/><rect x="1204.3" y="856.0" width="23" height="23" fill="#fff" stroke="#111" stroke-width="3"/><rect x="1188.7" y="861.6" width="23" height="23" fill="#fff" stroke="#111" stroke-width="3"/><rect x="1173.1" y="865.4" width="23" height="23" fill="#fff" stroke="#111" stroke-width="3"/><rect x="1157.5" y="868.1" width="23" height="23" fill="#fff" stroke="#111" stroke-width="3"/><rect x="1141.8" y="870.9" width="23" height="23" fill="#fff" stroke="#111" stroke-width="3"/><rect x="1126.2" y="870.4" width="23" height="23" fill="#fff" stroke="#111" stroke-width="3"/><rect x="1110.6" y="869.1" width="23" height="23" fill="#fff" stroke="#111" stroke-width="3"/><rect x="1094.9" y="867.7" width="23" height="23" fill="#fff" stroke="#111" stroke-width="3"/><rect x="1079.3" y="862.0" width="23" height="23" fill="#fff" stroke="#111" stroke-width="3"/><rect x="1063.7" y="855.4" width="23" height="23" fill="#fff" stroke="#111" stroke-width="3"/><rect x="1048.0" y="848.9" width="23" height="23" fill="#fff" stroke="#111" stroke-width="3"/><rect x="1032.4" y="842.4" width="23" height="23" fill="#fff" stroke="#111" stroke-width="3"/><rect x="1016.8" y="828.7" width="23" height="23" fill="#fff" stroke="#111" stroke-width="3"/><rect x="1001.2" y="814.7" width="23" height="23" fill="#fff" stroke="#111" stroke-width="3"/><rect x="985.5" y="800.8" width="23" height="23" fill="#fff" stroke="#111" stroke-width="3"/><rect x="969.9" y="787.8" width="23" height="23" fill="#fff" stroke="#111" stroke-width="3"/><rect x="954.3" y="772.7" width="23" height="23" fill="#fff" stroke="#111" stroke-width="3"/><rect x="938.6" y="757.9" width="23" height="23" fill="#fff" stroke="#111" stroke-width="3"/><rect x="923.0" y="748.5" width="23" height="23" fill="#fff" stroke="#111" stroke-width="3"/><rect x="907.4" y="739.8" width="23" height="23" fill="#fff" stroke="#111" stroke-width="3"/><rect x="891.7" y="734.7" width="23" height="23" fill="#fff" stroke="#111" stroke-width="3"/><rect x="876.1" y="729.2" width="23" height="23" fill="#fff" stroke="#111" stroke-width="3"/><rect x="860.5" y="723.2" width="23" height="23" fill="#fff" stroke="#111" stroke-width="3"/><rect x="844.9" y="716.9" width="23" height="23" fill="#fff" stroke="#111" stroke-width="3"/><rect x="829.2" y="710.7" width="23" height="23" fill="#fff" stroke="#111" stroke-width="3"/><rect x="813.6" y="698.1" width="23" height="23" fill="#fff" stroke="#111" stroke-width="3"/><rect x="798.0" y="696.6" width="23" height="23" fill="#fff" stroke="#111" stroke-width="3"/><rect x="782.3" y="694.5" width="23" height="23" fill="#fff" stroke="#111" stroke-width="3"/><rect x="766.7" y="690.8" width="23" height="23" fill="#fff" stroke="#111" stroke-width="3"/><rect x="751.1" y="687.6" width="23" height="23" fill="#fff" stroke="#111" stroke-width="3"/><rect x="735.4" y="684.6" width="23" height="23" fill="#fff" stroke="#111" stroke-width="3"/><rect x="719.8" y="683.2" width="23" height="23" fill="#fff" stroke="#111" stroke-width="3"/><rect x="704.2" y="683.1" width="23" height="23" fill="#fff" stroke="#111" stroke-width="3"/><rect x="688.6" y="683.0" width="23" height="23" fill="#fff" stroke="#111" stroke-width="3"/><rect x="672.9" y="683.2" width="23" height="23" fill="#fff" stroke="#111" stroke-width="3"/><rect x="657.3" y="683.4" width="23" height="23" fill="#fff" stroke="#111" stroke-width="3"/><rect x="641.7" y="684.6" width="23" height="23" fill="#fff" stroke="#111" stroke-width="3"/><rect x="626.0" y="688.1" width="23" height="23" fill="#fff" stroke="#111" stroke-width="3"/><rect x="610.4" y="691.6" width="23" height="23" fill="#fff" stroke="#111" stroke-width="3"/><rect x="594.8" y="695.9" width="23" height="23" fill="#fff" stroke="#111" stroke-width="3"/><rect x="579.1" y="700.3" width="23" height="23" fill="#fff" stroke="#111" stroke-width="3"/><rect x="563.5" y="709.5" width="23" height="23" fill="#fff" stroke="#111" stroke-width="3"/><rect x="547.9" y="716.5" width="23" height="23" fill="#fff" stroke="#111" stroke-width="3"/><rect x="532.2" y="724.5" width="23" height="23" fill="#fff" stroke="#111" stroke-width="3"/><rect x="516.6" y="736.0" width="23" height="23" fill="#fff" stroke="#111" stroke-width="3"/><rect x="501.0" y="744.5" width="23" height="23" fill="#fff" stroke="#111" stroke-width="3"/><rect x="485.4" y="754.5" width="23" height="23" fill="#fff" stroke="#111" stroke-width="3"/><rect x="469.7" y="771.2" width="23" height="23" fill="#fff" stroke="#111" stroke-width="3"/><rect x="454.1" y="779.2" width="23" height="23" fill="#fff" stroke="#111" stroke-width="3"/><rect x="438.5" y="799.0" width="23" height="23" fill="#fff" stroke="#111" stroke-width="3"/><rect x="422.8" y="830.5" width="23" height="23" fill="#fff" stroke="#111" stroke-width="3"/><rect x="407.2" y="826.5" width="23" height="23" fill="#fff" stroke="#111" stroke-width="3"/><rect x="391.6" y="851.5" width="23" height="23" fill="#fff" stroke="#111" stroke-width="3"/><rect x="376.0" y="867.5" width="23" height="23" fill="#fff" stroke="#111" stroke-width="3"/><rect x="360.3" y="904.5" width="23" height="23" fill="#fff" stroke="#111" stroke-width="3"/><rect x="344.7" y="911.5" width="23" height="23" fill="#fff" stroke="#111" stroke-width="3"/><rect x="329.1" y="916.5" width="23" height="23" fill="#fff" stroke="#111" stroke-width="3"/><rect x="313.4" y="912.5" width="23" height="23" fill="#fff" stroke="#111" stroke-width="3"/><rect x="297.8" y="940.5" width="23" height="23" fill="#fff" stroke="#111" stroke-width="3"/><rect x="282.2" y="930.5" width="23" height="23" fill="#fff" stroke="#111" stroke-width="3"/><rect x="266.5" y="945.5" width="23" height="23" fill="#fff" stroke="#111" stroke-width="3"/><rect x="250.9" y="953.5" width="23" height="23" fill="#fff" stroke="#111" stroke-width="3"/><rect x="235.3" y="955.5" width="23" height="23" fill="#fff" stroke="#111" stroke-width="3"/><rect x="219.7" y="955.5" width="23" height="23" fill="#fff" stroke="#111" stroke-width="3"/><rect x="204.0" y="962.5" width="23" height="23" fill="#fff" stroke="#111" stroke-width="3"/><rect x="188.4" y="964.0" width="23" height="23" fill="#fff" stroke="#111" stroke-width="3"/><rect x="172.8" y="972.5" width="23" height="23" fill="#fff" stroke="#111" stroke-width="3"/><rect x="157.1" y="970.5" width="23" height="23" fill="#fff" stroke="#111" stroke-width="3"/><rect x="141.5" y="982.5" width="23" height="23" fill="#fff" stroke="#111" stroke-width="3"/></g><g clip-path="url(#c2)"><path d="M153.0,997.0 L168.6,1005.0 L184.3,1010.0 L199.9,1014.0 L215.5,1016.0 L231.2,1030.0 L246.8,1042.0 L262.4,1046.0 L278.0,1035.0 L293.7,1003.0 L309.3,995.0 L324.9,965.0 L340.6,958.0 L356.2,968.0 L371.8,975.0 L387.5,945.0 L403.1,935.0 L418.7,932.0 L434.3,922.0 L450.0,906.0 L465.6,892.0 L481.2,876.0 L496.9,858.0 L512.5,834.0 L528.1,808.0 L543.8,790.0 L559.4,778.0 L575.0,756.6 L590.6,747.9 L606.3,741.0 L621.9,734.5 L637.5,730.3 L653.2,726.2 L668.8,722.0 L684.4,718.0 L700.1,718.2 L715.7,718.4 L731.3,718.6 L746.9,719.2 L762.6,720.1 L778.2,721.0 L793.8,722.0 L809.5,723.8 L825.1,726.6 L840.7,729.5 L856.4,734.1 L872.0,738.8 L887.6,743.6 L903.2,747.9 L918.9,751.9 L934.5,760.4 L950.1,774.4 L965.8,793.2 L981.4,811.0 L997.0,825.3 L1012.7,838.6 L1028.3,852.2 L1043.9,865.3 L1059.5,871.0 L1075.2,876.6 L1090.8,882.2 L1106.4,887.1 L1122.1,887.8 L1137.7,888.5 L1153.3,888.5 L1169.0,885.9 L1184.6,883.3 L1200.2,879.8 L1215.8,874.4" fill="none" stroke="#f00000" stroke-width="2"/><rect x="1202.8" y="861.4" width="26" height="26" fill="#f00000"/><rect x="1187.2" y="866.8" width="26" height="26" fill="#f00000"/><rect x="1171.6" y="870.3" width="26" height="26" fill="#f00000"/><rect x="1156.0" y="872.9" width="26" height="26" fill="#f00000"/><rect x="1140.3" y="875.5" width="26" height="26" fill="#f00000"/><rect x="1124.7" y="875.5" width="26" height="26" fill="#f00000"/><rect x="1109.1" y="874.8" width="26" height="26" fill="#f00000"/><rect x="1093.4" y="874.1" width="26" height="26" fill="#f00000"/><rect x="1077.8" y="869.2" width="26" height="26" fill="#f00000"/><rect x="1062.2" y="863.6" width="26" height="26" fill="#f00000"/><rect x="1046.5" y="858.0" width="26" height="26" fill="#f00000"/><rect x="1030.9" y="852.3" width="26" height="26" fill="#f00000"/><rect x="1015.3" y="839.2" width="26" height="26" fill="#f00000"/><rect x="999.7" y="825.6" width="26" height="26" fill="#f00000"/><rect x="984.0" y="812.3" width="26" height="26" fill="#f00000"/><rect x="968.4" y="798.0" width="26" height="26" fill="#f00000"/><rect x="952.8" y="780.2" width="26" height="26" fill="#f00000"/><rect x="937.1" y="761.4" width="26" height="26" fill="#f00000"/><rect x="921.5" y="747.4" width="26" height="26" fill="#f00000"/><rect x="905.9" y="738.9" width="26" height="26" fill="#f00000"/><rect x="890.2" y="734.9" width="26" height="26" fill="#f00000"/><rect x="874.6" y="730.6" width="26" height="26" fill="#f00000"/><rect x="859.0" y="725.8" width="26" height="26" fill="#f00000"/><rect x="843.4" y="721.1" width="26" height="26" fill="#f00000"/><rect x="827.7" y="716.5" width="26" height="26" fill="#f00000"/><rect x="812.1" y="713.6" width="26" height="26" fill="#f00000"/><rect x="796.5" y="710.8" width="26" height="26" fill="#f00000"/><rect x="780.8" y="709.0" width="26" height="26" fill="#f00000"/><rect x="765.2" y="708.0" width="26" height="26" fill="#f00000"/><rect x="749.6" y="707.1" width="26" height="26" fill="#f00000"/><rect x="733.9" y="706.2" width="26" height="26" fill="#f00000"/><rect x="718.3" y="705.6" width="26" height="26" fill="#f00000"/><rect x="702.7" y="705.4" width="26" height="26" fill="#f00000"/><rect x="687.1" y="705.2" width="26" height="26" fill="#f00000"/><rect x="671.4" y="705.0" width="26" height="26" fill="#f00000"/><rect x="655.8" y="709.0" width="26" height="26" fill="#f00000"/><rect x="640.2" y="713.2" width="26" height="26" fill="#f00000"/><rect x="624.5" y="717.3" width="26" height="26" fill="#f00000"/><rect x="608.9" y="721.5" width="26" height="26" fill="#f00000"/><rect x="593.3" y="728.0" width="26" height="26" fill="#f00000"/><rect x="577.6" y="734.9" width="26" height="26" fill="#f00000"/><rect x="562.0" y="743.6" width="26" height="26" fill="#f00000"/><rect x="546.4" y="765.0" width="26" height="26" fill="#f00000"/><rect x="530.8" y="777.0" width="26" height="26" fill="#f00000"/><rect x="515.1" y="795.0" width="26" height="26" fill="#f00000"/><rect x="499.5" y="821.0" width="26" height="26" fill="#f00000"/><rect x="483.9" y="845.0" width="26" height="26" fill="#f00000"/><rect x="468.2" y="863.0" width="26" height="26" fill="#f00000"/><rect x="452.6" y="879.0" width="26" height="26" fill="#f00000"/><rect x="437.0" y="893.0" width="26" height="26" fill="#f00000"/><rect x="421.3" y="909.0" width="26" height="26" fill="#f00000"/><rect x="405.7" y="919.0" width="26" height="26" fill="#f00000"/><rect x="390.1" y="922.0" width="26" height="26" fill="#f00000"/><rect x="374.5" y="932.0" width="26" height="26" fill="#f00000"/><rect x="358.8" y="962.0" width="26" height="26" fill="#f00000"/><rect x="343.2" y="955.0" width="26" height="26" fill="#f00000"/><rect x="327.6" y="945.0" width="26" height="26" fill="#f00000"/><rect x="311.9" y="952.0" width="26" height="26" fill="#f00000"/><rect x="296.3" y="982.0" width="26" height="26" fill="#f00000"/><rect x="280.7" y="990.0" width="26" height="26" fill="#f00000"/><rect x="265.0" y="1022.0" width="26" height="26" fill="#f00000"/><rect x="249.4" y="1033.0" width="26" height="26" fill="#f00000"/><rect x="233.8" y="1029.0" width="26" height="26" fill="#f00000"/><rect x="218.2" y="1017.0" width="26" height="26" fill="#f00000"/><rect x="202.5" y="1003.0" width="26" height="26" fill="#f00000"/><rect x="186.9" y="1001.0" width="26" height="26" fill="#f00000"/><rect x="171.3" y="997.0" width="26" height="26" fill="#f00000"/><rect x="155.6" y="992.0" width="26" height="26" fill="#f00000"/><rect x="140.0" y="984.0" width="26" height="26" fill="#f00000"/></g><g clip-path="url(#c2)"><path d="M153.0,1010.0 L168.6,1018.0 L184.3,1025.0 L199.9,1032.0 L215.5,1040.0 L231.2,1048.0 L246.8,1025.0 L262.4,1022.0 L278.0,1020.5 L293.7,1008.0 L309.3,1000.0 L324.9,983.0 L340.6,1000.0 L356.2,952.0 L371.8,1005.0 L387.5,919.0 L403.1,932.0 L418.7,912.0 L434.3,906.0 L450.0,897.0 L465.6,860.0 L481.2,856.0 L496.9,832.0 L512.5,812.0 L528.1,795.0 L543.8,785.0 L559.4,772.0 L575.0,752.6 L590.6,743.9 L606.3,737.0 L621.9,730.5 L637.5,726.6 L653.2,722.7 L668.8,718.8 L684.4,715.0 L700.1,715.3 L715.7,715.6 L731.3,715.8 L746.9,716.5 L762.6,717.8 L778.2,719.0 L793.8,720.3 L809.5,722.4 L825.1,725.6 L840.7,728.8 L856.4,733.7 L872.0,738.5 L887.6,743.4 L903.2,748.2 L918.9,753.7 L934.5,763.7 L950.1,774.5 L965.8,790.3 L981.4,805.7 L997.0,819.0 L1012.7,833.1 L1028.3,847.5 L1043.9,861.3 L1059.5,867.0 L1075.2,872.6 L1090.8,878.2 L1106.4,883.2 L1122.1,884.2 L1137.7,885.2 L1153.3,885.1 L1169.0,880.7 L1184.6,876.4 L1200.2,871.8 L1215.8,865.6" fill="none" stroke="#0a10e0" stroke-width="2"/><circle cx="1215.8" cy="865.6" r="11.5" fill="#fff" stroke="#0a10e0" stroke-width="3"/><circle cx="1200.2" cy="871.8" r="11.5" fill="#fff" stroke="#0a10e0" stroke-width="3"/><circle cx="1184.6" cy="876.4" r="11.5" fill="#fff" stroke="#0a10e0" stroke-width="3"/><circle cx="1169.0" cy="880.7" r="11.5" fill="#fff" stroke="#0a10e0" stroke-width="3"/><circle cx="1153.3" cy="885.1" r="11.5" fill="#fff" stroke="#0a10e0" stroke-width="3"/><circle cx="1137.7" cy="885.2" r="11.5" fill="#fff" stroke="#0a10e0" stroke-width="3"/><circle cx="1122.1" cy="884.2" r="11.5" fill="#fff" stroke="#0a10e0" stroke-width="3"/><circle cx="1106.4" cy="883.2" r="11.5" fill="#fff" stroke="#0a10e0" stroke-width="3"/><circle cx="1090.8" cy="878.2" r="11.5" fill="#fff" stroke="#0a10e0" stroke-width="3"/><circle cx="1075.2" cy="872.6" r="11.5" fill="#fff" stroke="#0a10e0" stroke-width="3"/><circle cx="1059.5" cy="867.0" r="11.5" fill="#fff" stroke="#0a10e0" stroke-width="3"/><circle cx="1043.9" cy="861.3" r="11.5" fill="#fff" stroke="#0a10e0" stroke-width="3"/><circle cx="1028.3" cy="847.5" r="11.5" fill="#fff" stroke="#0a10e0" stroke-width="3"/><circle cx="1012.7" cy="833.1" r="11.5" fill="#fff" stroke="#0a10e0" stroke-width="3"/><circle cx="997.0" cy="819.0" r="11.5" fill="#fff" stroke="#0a10e0" stroke-width="3"/><circle cx="981.4" cy="805.7" r="11.5" fill="#fff" stroke="#0a10e0" stroke-width="3"/><circle cx="965.8" cy="790.3" r="11.5" fill="#fff" stroke="#0a10e0" stroke-width="3"/><circle cx="950.1" cy="774.5" r="11.5" fill="#fff" stroke="#0a10e0" stroke-width="3"/><circle cx="934.5" cy="763.7" r="11.5" fill="#fff" stroke="#0a10e0" stroke-width="3"/><circle cx="918.9" cy="753.7" r="11.5" fill="#fff" stroke="#0a10e0" stroke-width="3"/><circle cx="903.2" cy="748.2" r="11.5" fill="#fff" stroke="#0a10e0" stroke-width="3"/><circle cx="887.6" cy="743.4" r="11.5" fill="#fff" stroke="#0a10e0" stroke-width="3"/><circle cx="872.0" cy="738.5" r="11.5" fill="#fff" stroke="#0a10e0" stroke-width="3"/><circle cx="856.4" cy="733.7" r="11.5" fill="#fff" stroke="#0a10e0" stroke-width="3"/><circle cx="840.7" cy="728.8" r="11.5" fill="#fff" stroke="#0a10e0" stroke-width="3"/><circle cx="825.1" cy="725.6" r="11.5" fill="#fff" stroke="#0a10e0" stroke-width="3"/><circle cx="809.5" cy="722.4" r="11.5" fill="#fff" stroke="#0a10e0" stroke-width="3"/><circle cx="793.8" cy="720.3" r="11.5" fill="#fff" stroke="#0a10e0" stroke-width="3"/><circle cx="778.2" cy="719.0" r="11.5" fill="#fff" stroke="#0a10e0" stroke-width="3"/><circle cx="762.6" cy="717.8" r="11.5" fill="#fff" stroke="#0a10e0" stroke-width="3"/><circle cx="746.9" cy="716.5" r="11.5" fill="#fff" stroke="#0a10e0" stroke-width="3"/><circle cx="731.3" cy="715.8" r="11.5" fill="#fff" stroke="#0a10e0" stroke-width="3"/><circle cx="715.7" cy="715.6" r="11.5" fill="#fff" stroke="#0a10e0" stroke-width="3"/><circle cx="700.1" cy="715.3" r="11.5" fill="#fff" stroke="#0a10e0" stroke-width="3"/><circle cx="684.4" cy="715.0" r="11.5" fill="#fff" stroke="#0a10e0" stroke-width="3"/><circle cx="668.8" cy="718.8" r="11.5" fill="#fff" stroke="#0a10e0" stroke-width="3"/><circle cx="653.2" cy="722.7" r="11.5" fill="#fff" stroke="#0a10e0" stroke-width="3"/><circle cx="637.5" cy="726.6" r="11.5" fill="#fff" stroke="#0a10e0" stroke-width="3"/><circle cx="621.9" cy="730.5" r="11.5" fill="#fff" stroke="#0a10e0" stroke-width="3"/><circle cx="606.3" cy="737.0" r="11.5" fill="#fff" stroke="#0a10e0" stroke-width="3"/><circle cx="590.6" cy="743.9" r="11.5" fill="#fff" stroke="#0a10e0" stroke-width="3"/><circle cx="575.0" cy="752.6" r="11.5" fill="#fff" stroke="#0a10e0" stroke-width="3"/><circle cx="559.4" cy="772.0" r="11.5" fill="#fff" stroke="#0a10e0" stroke-width="3"/><circle cx="543.8" cy="785.0" r="11.5" fill="#fff" stroke="#0a10e0" stroke-width="3"/><circle cx="528.1" cy="795.0" r="11.5" fill="#fff" stroke="#0a10e0" stroke-width="3"/><circle cx="512.5" cy="812.0" r="11.5" fill="#fff" stroke="#0a10e0" stroke-width="3"/><circle cx="496.9" cy="832.0" r="11.5" fill="#fff" stroke="#0a10e0" stroke-width="3"/><circle cx="481.2" cy="856.0" r="11.5" fill="#fff" stroke="#0a10e0" stroke-width="3"/><circle cx="465.6" cy="860.0" r="11.5" fill="#fff" stroke="#0a10e0" stroke-width="3"/><circle cx="450.0" cy="897.0" r="11.5" fill="#fff" stroke="#0a10e0" stroke-width="3"/><circle cx="434.3" cy="906.0" r="11.5" fill="#fff" stroke="#0a10e0" stroke-width="3"/><circle cx="418.7" cy="912.0" r="11.5" fill="#fff" stroke="#0a10e0" stroke-width="3"/><circle cx="403.1" cy="932.0" r="11.5" fill="#fff" stroke="#0a10e0" stroke-width="3"/><circle cx="387.5" cy="919.0" r="11.5" fill="#fff" stroke="#0a10e0" stroke-width="3"/><circle cx="371.8" cy="1005.0" r="11.5" fill="#fff" stroke="#0a10e0" stroke-width="3"/><circle cx="356.2" cy="952.0" r="11.5" fill="#fff" stroke="#0a10e0" stroke-width="3"/><circle cx="340.6" cy="1000.0" r="11.5" fill="#fff" stroke="#0a10e0" stroke-width="3"/><circle cx="324.9" cy="983.0" r="11.5" fill="#fff" stroke="#0a10e0" stroke-width="3"/><circle cx="309.3" cy="1000.0" r="11.5" fill="#fff" stroke="#0a10e0" stroke-width="3"/><circle cx="293.7" cy="1008.0" r="11.5" fill="#fff" stroke="#0a10e0" stroke-width="3"/><circle cx="278.0" cy="1020.5" r="11.5" fill="#fff" stroke="#0a10e0" stroke-width="3"/><circle cx="262.4" cy="1022.0" r="11.5" fill="#fff" stroke="#0a10e0" stroke-width="3"/><circle cx="246.8" cy="1025.0" r="11.5" fill="#fff" stroke="#0a10e0" stroke-width="3"/><circle cx="231.2" cy="1048.0" r="11.5" fill="#fff" stroke="#0a10e0" stroke-width="3"/><circle cx="215.5" cy="1040.0" r="11.5" fill="#fff" stroke="#0a10e0" stroke-width="3"/><circle cx="199.9" cy="1032.0" r="11.5" fill="#fff" stroke="#0a10e0" stroke-width="3"/><circle cx="184.3" cy="1025.0" r="11.5" fill="#fff" stroke="#0a10e0" stroke-width="3"/><circle cx="168.6" cy="1018.0" r="11.5" fill="#fff" stroke="#0a10e0" stroke-width="3"/><circle cx="153.0" cy="1010.0" r="11.5" fill="#fff" stroke="#0a10e0" stroke-width="3"/></g><g clip-path="url(#c2)"><path d="M153.0,1009.0 L168.6,1032.0 L184.3,1040.0 L199.9,1046.0 L215.5,1080.0 L231.2,1085.0 L246.8,1090.0 L262.4,1085.0 L278.0,1078.0 L293.7,1036.0 L309.3,1025.0 L324.9,1018.0 L340.6,1012.0 L356.2,989.0 L371.8,1005.0 L387.5,962.0 L403.1,960.0 L418.7,891.0 L434.3,884.0 L450.0,874.0 L465.6,860.0 L481.2,834.0 L496.9,823.0 L512.5,806.0 L528.1,787.0 L543.8,771.1 L559.4,756.0 L575.0,747.1 L590.6,738.9 L606.3,732.6 L621.9,726.6 L637.5,722.9 L653.2,719.2 L668.8,715.6 L684.4,712.0 L700.1,712.4 L715.7,712.8 L731.3,713.3 L746.9,714.1 L762.6,715.5 L778.2,716.9 L793.8,718.3 L809.5,720.6 L825.1,723.9 L840.7,727.2 L856.4,732.3 L872.0,737.3 L887.6,742.3 L903.2,747.0 L918.9,751.4 L934.5,760.4 L950.1,770.1 L965.8,785.3 L981.4,800.4 L997.0,813.5 L1012.7,827.5 L1028.3,841.6 L1043.9,855.4 L1059.5,861.8 L1075.2,868.2 L1090.8,874.6 L1106.4,880.2 L1122.1,881.6 L1137.7,882.9 L1153.3,883.4 L1169.0,880.6 L1184.6,877.9 L1200.2,874.1 L1215.8,868.5" fill="none" stroke="#175a0c" stroke-width="2"/><circle cx="1215.8" cy="868.5" r="12.6" fill="#1f8414" stroke="#175a0c" stroke-width="1.5"/><circle cx="1200.2" cy="874.1" r="12.6" fill="#1f8414" stroke="#175a0c" stroke-width="1.5"/><circle cx="1184.6" cy="877.9" r="12.6" fill="#1f8414" stroke="#175a0c" stroke-width="1.5"/><circle cx="1169.0" cy="880.6" r="12.6" fill="#1f8414" stroke="#175a0c" stroke-width="1.5"/><circle cx="1153.3" cy="883.4" r="12.6" fill="#1f8414" stroke="#175a0c" stroke-width="1.5"/><circle cx="1137.7" cy="882.9" r="12.6" fill="#1f8414" stroke="#175a0c" stroke-width="1.5"/><circle cx="1122.1" cy="881.6" r="12.6" fill="#1f8414" stroke="#175a0c" stroke-width="1.5"/><circle cx="1106.4" cy="880.2" r="12.6" fill="#1f8414" stroke="#175a0c" stroke-width="1.5"/><circle cx="1090.8" cy="874.6" r="12.6" fill="#1f8414" stroke="#175a0c" stroke-width="1.5"/><circle cx="1075.2" cy="868.2" r="12.6" fill="#1f8414" stroke="#175a0c" stroke-width="1.5"/><circle cx="1059.5" cy="861.8" r="12.6" fill="#1f8414" stroke="#175a0c" stroke-width="1.5"/><circle cx="1043.9" cy="855.4" r="12.6" fill="#1f8414" stroke="#175a0c" stroke-width="1.5"/><circle cx="1028.3" cy="841.6" r="12.6" fill="#1f8414" stroke="#175a0c" stroke-width="1.5"/><circle cx="1012.7" cy="827.5" r="12.6" fill="#1f8414" stroke="#175a0c" stroke-width="1.5"/><circle cx="997.0" cy="813.5" r="12.6" fill="#1f8414" stroke="#175a0c" stroke-width="1.5"/><circle cx="981.4" cy="800.4" r="12.6" fill="#1f8414" stroke="#175a0c" stroke-width="1.5"/><circle cx="965.8" cy="785.3" r="12.6" fill="#1f8414" stroke="#175a0c" stroke-width="1.5"/><circle cx="950.1" cy="770.1" r="12.6" fill="#1f8414" stroke="#175a0c" stroke-width="1.5"/><circle cx="934.5" cy="760.4" r="12.6" fill="#1f8414" stroke="#175a0c" stroke-width="1.5"/><circle cx="918.9" cy="751.4" r="12.6" fill="#1f8414" stroke="#175a0c" stroke-width="1.5"/><circle cx="903.2" cy="747.0" r="12.6" fill="#1f8414" stroke="#175a0c" stroke-width="1.5"/><circle cx="887.6" cy="742.3" r="12.6" fill="#1f8414" stroke="#175a0c" stroke-width="1.5"/><circle cx="872.0" cy="737.3" r="12.6" fill="#1f8414" stroke="#175a0c" stroke-width="1.5"/><circle cx="856.4" cy="732.3" r="12.6" fill="#1f8414" stroke="#175a0c" stroke-width="1.5"/><circle cx="840.7" cy="727.2" r="12.6" fill="#1f8414" stroke="#175a0c" stroke-width="1.5"/><circle cx="825.1" cy="723.9" r="12.6" fill="#1f8414" stroke="#175a0c" stroke-width="1.5"/><circle cx="809.5" cy="720.6" r="12.6" fill="#1f8414" stroke="#175a0c" stroke-width="1.5"/><circle cx="793.8" cy="718.3" r="12.6" fill="#1f8414" stroke="#175a0c" stroke-width="1.5"/><circle cx="778.2" cy="716.9" r="12.6" fill="#1f8414" stroke="#175a0c" stroke-width="1.5"/><circle cx="762.6" cy="715.5" r="12.6" fill="#1f8414" stroke="#175a0c" stroke-width="1.5"/><circle cx="746.9" cy="714.1" r="12.6" fill="#1f8414" stroke="#175a0c" stroke-width="1.5"/><circle cx="731.3" cy="713.3" r="12.6" fill="#1f8414" stroke="#175a0c" stroke-width="1.5"/><circle cx="715.7" cy="712.8" r="12.6" fill="#1f8414" stroke="#175a0c" stroke-width="1.5"/><circle cx="700.1" cy="712.4" r="12.6" fill="#1f8414" stroke="#175a0c" stroke-width="1.5"/><circle cx="684.4" cy="712.0" r="12.6" fill="#1f8414" stroke="#175a0c" stroke-width="1.5"/><circle cx="668.8" cy="715.6" r="12.6" fill="#1f8414" stroke="#175a0c" stroke-width="1.5"/><circle cx="653.2" cy="719.2" r="12.6" fill="#1f8414" stroke="#175a0c" stroke-width="1.5"/><circle cx="637.5" cy="722.9" r="12.6" fill="#1f8414" stroke="#175a0c" stroke-width="1.5"/><circle cx="621.9" cy="726.6" r="12.6" fill="#1f8414" stroke="#175a0c" stroke-width="1.5"/><circle cx="606.3" cy="732.6" r="12.6" fill="#1f8414" stroke="#175a0c" stroke-width="1.5"/><circle cx="590.6" cy="738.9" r="12.6" fill="#1f8414" stroke="#175a0c" stroke-width="1.5"/><circle cx="575.0" cy="747.1" r="12.6" fill="#1f8414" stroke="#175a0c" stroke-width="1.5"/><circle cx="559.4" cy="756.0" r="12.6" fill="#1f8414" stroke="#175a0c" stroke-width="1.5"/><circle cx="543.8" cy="771.1" r="12.6" fill="#1f8414" stroke="#175a0c" stroke-width="1.5"/><circle cx="528.1" cy="787.0" r="12.6" fill="#1f8414" stroke="#175a0c" stroke-width="1.5"/><circle cx="512.5" cy="806.0" r="12.6" fill="#1f8414" stroke="#175a0c" stroke-width="1.5"/><circle cx="496.9" cy="823.0" r="12.6" fill="#1f8414" stroke="#175a0c" stroke-width="1.5"/><circle cx="481.2" cy="834.0" r="12.6" fill="#1f8414" stroke="#175a0c" stroke-width="1.5"/><circle cx="465.6" cy="860.0" r="12.6" fill="#1f8414" stroke="#175a0c" stroke-width="1.5"/><circle cx="450.0" cy="874.0" r="12.6" fill="#1f8414" stroke="#175a0c" stroke-width="1.5"/><circle cx="434.3" cy="884.0" r="12.6" fill="#1f8414" stroke="#175a0c" stroke-width="1.5"/><circle cx="418.7" cy="891.0" r="12.6" fill="#1f8414" stroke="#175a0c" stroke-width="1.5"/><circle cx="403.1" cy="960.0" r="12.6" fill="#1f8414" stroke="#175a0c" stroke-width="1.5"/><circle cx="387.5" cy="962.0" r="12.6" fill="#1f8414" stroke="#175a0c" stroke-width="1.5"/><circle cx="371.8" cy="1005.0" r="12.6" fill="#1f8414" stroke="#175a0c" stroke-width="1.5"/><circle cx="356.2" cy="989.0" r="12.6" fill="#1f8414" stroke="#175a0c" stroke-width="1.5"/><circle cx="340.6" cy="1012.0" r="12.6" fill="#1f8414" stroke="#175a0c" stroke-width="1.5"/><circle cx="324.9" cy="1018.0" r="12.6" fill="#1f8414" stroke="#175a0c" stroke-width="1.5"/><circle cx="309.3" cy="1025.0" r="12.6" fill="#1f8414" stroke="#175a0c" stroke-width="1.5"/><circle cx="293.7" cy="1036.0" r="12.6" fill="#1f8414" stroke="#175a0c" stroke-width="1.5"/><circle cx="278.0" cy="1078.0" r="12.6" fill="#1f8414" stroke="#175a0c" stroke-width="1.5"/><circle cx="262.4" cy="1085.0" r="12.6" fill="#1f8414" stroke="#175a0c" stroke-width="1.5"/><circle cx="246.8" cy="1090.0" r="12.6" fill="#1f8414" stroke="#175a0c" stroke-width="1.5"/><circle cx="231.2" cy="1085.0" r="12.6" fill="#1f8414" stroke="#175a0c" stroke-width="1.5"/><circle cx="215.5" cy="1080.0" r="12.6" fill="#1f8414" stroke="#175a0c" stroke-width="1.5"/><circle cx="199.9" cy="1046.0" r="12.6" fill="#1f8414" stroke="#175a0c" stroke-width="1.5"/><circle cx="184.3" cy="1040.0" r="12.6" fill="#1f8414" stroke="#175a0c" stroke-width="1.5"/><circle cx="168.6" cy="1032.0" r="12.6" fill="#1f8414" stroke="#175a0c" stroke-width="1.5"/><circle cx="153.0" cy="1009.0" r="12.6" fill="#1f8414" stroke="#175a0c" stroke-width="1.5"/></g><line x1="747" y1="71" x2="840" y2="71" stroke="#222" stroke-width="2.5"/><rect x="783.5" y="59.5" width="23" height="23" fill="#fff" stroke="#111" stroke-width="3"/><line x1="747" y1="116" x2="840" y2="116" stroke="#ff4040" stroke-width="2.5"/><rect x="782" y="103" width="26" height="26" fill="#f00000"/><line x1="747" y1="162" x2="840" y2="162" stroke="#6060ff" stroke-width="2.5"/><circle cx="795" cy="162" r="12.8" fill="#fff" stroke="#0a10e0" stroke-width="3.4"/><line x1="747" y1="209" x2="840" y2="209" stroke="#2a4a22" stroke-width="2.5"/><circle cx="795" cy="209" r="12.5" fill="#1f8414" stroke="#175a0c" stroke-width="1.5"/><g style="font-family:'Liberation Serif','Times New Roman',serif;font-weight:bold" fill="#000"><text transform="translate(66.4,459.5) scale(1,1.045)" font-size="45.5" text-anchor="start">10<tspan dy="-20.6" font-size="29">0</tspan></text><text transform="translate(66.4,391.0) scale(1,1.045)" font-size="45.5" text-anchor="start">10<tspan dy="-20.6" font-size="29">1</tspan></text><text transform="translate(66.4,322.5) scale(1,1.045)" font-size="45.5" text-anchor="start">10<tspan dy="-20.6" font-size="29">2</tspan></text><text transform="translate(66.4,254.0) scale(1,1.045)" font-size="45.5" text-anchor="start">10<tspan dy="-20.6" font-size="29">3</tspan></text><text transform="translate(66.4,185.5) scale(1,1.045)" font-size="45.5" text-anchor="start">10<tspan dy="-20.6" font-size="29">4</tspan></text><text transform="translate(66.4,117.0) scale(1,1.045)" font-size="45.5" text-anchor="start">10<tspan dy="-20.6" font-size="29">5</tspan></text><text transform="translate(66.4,48.5) scale(1,1.045)" font-size="45.5" text-anchor="start">10<tspan dy="-20.6" font-size="29">6</tspan></text><text transform="translate(154.5,506.8) scale(1,1.045)" font-size="45.5" text-anchor="middle">10<tspan dy="-20.6" font-size="29">-2</tspan></text><text transform="translate(310.8,506.8) scale(1,1.045)" font-size="45.5" text-anchor="middle">10<tspan dy="-20.6" font-size="29">-1</tspan></text><text transform="translate(467.1,506.8) scale(1,1.045)" font-size="45.5" text-anchor="middle">10<tspan dy="-20.6" font-size="29">0</tspan></text><text transform="translate(623.4,506.8) scale(1,1.045)" font-size="45.5" text-anchor="middle">10<tspan dy="-20.6" font-size="29">1</tspan></text><text transform="translate(779.7,506.8) scale(1,1.045)" font-size="45.5" text-anchor="middle">10<tspan dy="-20.6" font-size="29">2</tspan></text><text transform="translate(936.0,506.8) scale(1,1.045)" font-size="45.5" text-anchor="middle">10<tspan dy="-20.6" font-size="29">3</tspan></text><text transform="translate(1092.3,506.8) scale(1,1.045)" font-size="45.5" text-anchor="middle">10<tspan dy="-20.6" font-size="29">4</tspan></text><text transform="translate(1248.6,506.8) scale(1,1.045)" font-size="45.5" text-anchor="middle">10<tspan dy="-20.6" font-size="29">5</tspan></text><text transform="translate(154.5,1127.8) scale(1,1.045)" font-size="45.5" text-anchor="middle">10<tspan dy="-20.6" font-size="29">-2</tspan></text><text transform="translate(310.8,1127.8) scale(1,1.045)" font-size="45.5" text-anchor="middle">10<tspan dy="-20.6" font-size="29">-1</tspan></text><text transform="translate(467.1,1127.8) scale(1,1.045)" font-size="45.5" text-anchor="middle">10<tspan dy="-20.6" font-size="29">0</tspan></text><text transform="translate(623.4,1127.8) scale(1,1.045)" font-size="45.5" text-anchor="middle">10<tspan dy="-20.6" font-size="29">1</tspan></text><text transform="translate(779.7,1127.8) scale(1,1.045)" font-size="45.5" text-anchor="middle">10<tspan dy="-20.6" font-size="29">2</tspan></text><text transform="translate(936.0,1127.8) scale(1,1.045)" font-size="45.5" text-anchor="middle">10<tspan dy="-20.6" font-size="29">3</tspan></text><text transform="translate(1092.3,1127.8) scale(1,1.045)" font-size="45.5" text-anchor="middle">10<tspan dy="-20.6" font-size="29">4</tspan></text><text transform="translate(1248.6,1127.8) scale(1,1.045)" font-size="45.5" text-anchor="middle">10<tspan dy="-20.6" font-size="29">5</tspan></text><text transform="translate(122.5,667.2) scale(1,1.045)" font-size="45.5" text-anchor="end">-90</text><text transform="translate(122.5,755.7) scale(1,1.045)" font-size="45.5" text-anchor="end">-60</text><text transform="translate(122.5,846.9) scale(1,1.045)" font-size="45.5" text-anchor="end">-30</text><text transform="translate(122.5,935.4) scale(1,1.045)" font-size="45.5" text-anchor="end">0</text><text transform="translate(122.5,1021.5) scale(1,1.045)" font-size="45.5" text-anchor="end">30</text><text transform="translate(556.0,559.4) scale(1,1.1)" font-size="43.7" text-anchor="start">Frequency (Hz)</text><text transform="translate(556.0,1180.0) scale(1,1.1)" font-size="43.7" text-anchor="start">Frequency (Hz)</text><text transform="translate(34.5,521) rotate(-90)" x="0" y="0" font-size="45">Impedance modulus (ohm)</text><text transform="translate(34.5,1031.5) rotate(-90)" x="0" y="0" font-size="45.2">Phase angle (degree)</text><text x="862" y="83.5" font-size="39.5">SWAAT pH 2.9, 1 h</text><text x="862" y="128.5" font-size="39.5">SWAAT pH 2.9, 3 h</text><text x="862" y="174.5" font-size="39.5">SWAAT pH 2.9, 6 h</text><text x="862" y="221.5" font-size="39.5">SWAAT pH 2.9, 15 h</text></g></svg></body></html>
